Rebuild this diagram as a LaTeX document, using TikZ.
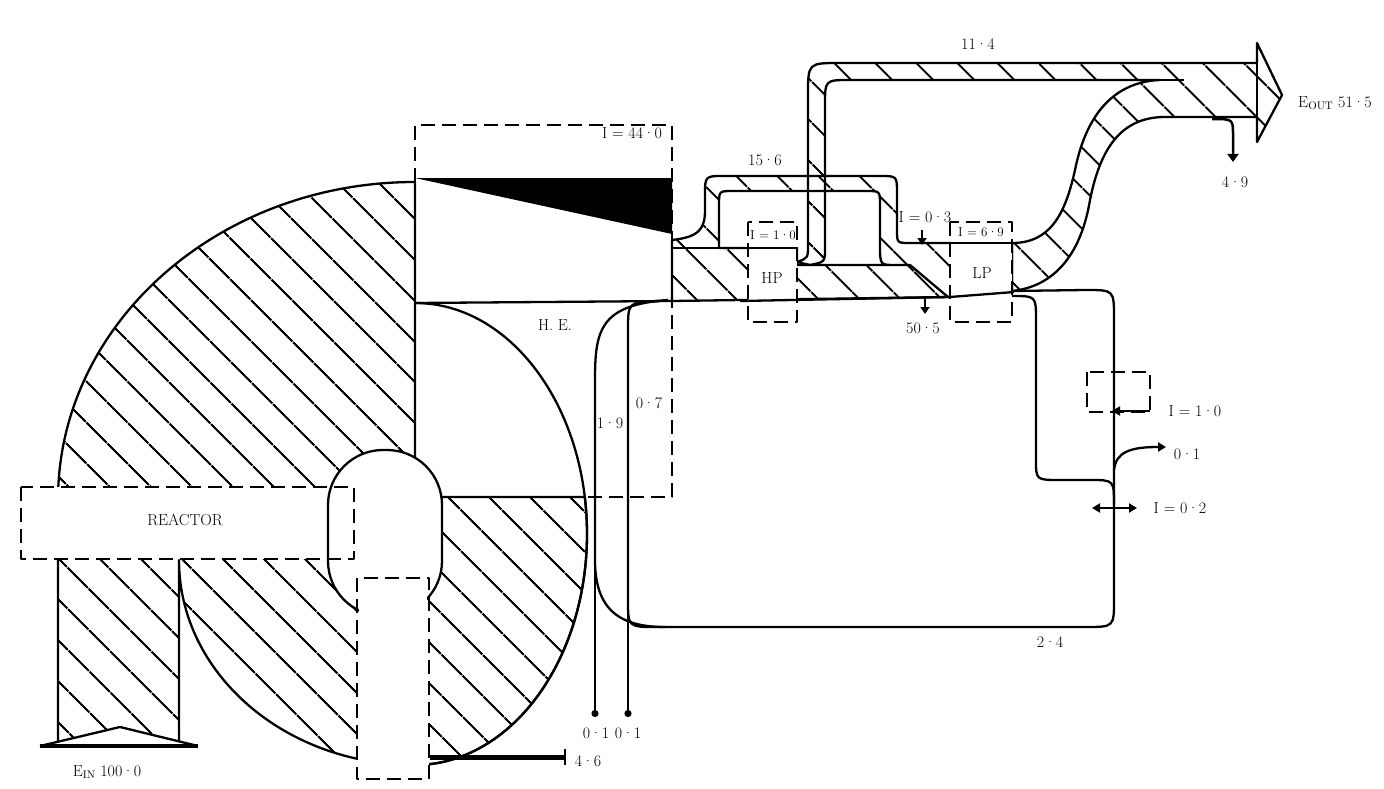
\documentclass[tikz,border=0pt]{standalone}
\usetikzlibrary{patterns.meta,arrows.meta}
\begin{document}
\begin{tikzpicture}[x=1pt,y=-1pt,line join=round,
  ol/.style={line width=2.3pt},
  hatch/.style={pattern={Lines[angle=-45,distance=30pt,line width=2.2pt]}},
  dsh/.style={line width=2.5pt,dash pattern=on 14pt off 7pt},
  lbl/.style={font=\fontsize{16}{18}\selectfont,inner sep=1pt},
  slbl/.style={font=\fontsize{13}{15}\selectfont,inner sep=1pt}]
\useasboundingbox (0,0) rectangle (1384,789);
% H.E. dashed box
\draw[dsh] (415,497) -- (415,125) -- (672,125) -- (672,497) -- cycle;
% big hatched region
\path[hatch,ol,draw] (415,182) arc[start angle=270,end angle=180,x radius=357,y radius=318]
  -- (58,745) -- (179,745) -- (179,560)
  arc[start angle=180,end angle=90,x radius=236,y radius=205]
  arc[start angle=90,end angle=-9.2,x radius=172,y radius=231]
  -- (415,497) -- cycle;
\draw[ol] (415,303) arc[start angle=-90,end angle=90,x radius=172,y radius=231];
\fill[white] (40,746) -- (120,727) -- (198,746) -- cycle;
\draw[ol] (40,746) -- (120,727) -- (198,746);
\draw[line width=4pt] (40,746) -- (198,746);
% reactor, pill, lower box
\fill[white] (21,487) rectangle (354,559);
\fill[white] (357,578) rectangle (429,779);
\draw[ol,fill=white,rounded corners=55pt] (328,450) rectangle (442,616);
\fill[white] (359,580) rectangle (427,777);
\draw[dsh] (21,487) rectangle (354,559);
\draw[dsh] (357,578) rectangle (429,779);
\node[lbl] (reactor) at (185,520) {REACTOR};
% wedge
\fill (415,178) -- (672,178) -- (672,234) -- cycle;
\draw[ol] (415,303) -- (672,301);
% turbine hatched band
\path[hatch,ol,draw] (672,301) -- (672,240) .. controls (700,237) and (705,228) .. (705,210) -- (705,195)
  .. controls (705,176) .. (724,176) -- (880,176) .. controls (897,176) .. (897,193) -- (897,230)
  .. controls (897,243) .. (910,243) -- (1012,243) -- (1012,293) -- (950,297) -- cycle;
\draw[ol,fill=white] (797,248) -- (719,248) -- (719,205) .. controls (719,191) .. (733,191) -- (866,191)
  .. controls (880,191) .. (880,205) -- (880,245) .. controls (880,265) .. (895,265) -- (797,265) -- cycle;
\draw[ol] (895,265) -- (910,265) -- (948,297);
\draw[ol] (672,248) -- (719,248);
% 11.4 band, S band, output arrow
\path[hatch,ol,draw] (797,262) .. controls (808,258) .. (808,245) -- (808,95) .. controls (808,63) .. (840,63)
  -- (1257,63) -- (1257,43) -- (1282,95) -- (1257,142) -- (1257,117) -- (1165,117)
  .. controls (1120,117) and (1100,150) .. (1090,200) .. controls (1080,260) and (1050,287) .. (1012,291)
  -- (1012,243) .. controls (1050,243) and (1065,215) .. (1075,170) .. controls (1085,120) and (1110,82) .. (1160,80)
  -- (850,80) .. controls (825,80) .. (825,105) -- (825,248) .. controls (825,262) .. (810,265) -- cycle;
\draw[ol] (1150,80) -- (1184,80);
\draw[ol] (1257,63) -- (1257,117);
\draw[line width=2.5pt,-{Triangle[length=8pt,width=11pt]}] (1212,119) .. controls (1233,119) .. (1233,135) -- (1233,162);
% HP and LP boxes
\fill[white] (748,222) rectangle (797,322);
\fill[white] (950,222) rectangle (1012,322);
\draw[ol] (748,248) -- (797,248);
\draw[ol] (950,243) -- (1012,243);
\draw[ol] (740,301) -- (950,297) -- (1014,292);
\draw[dsh] (748,222) rectangle (797,322);
\draw[dsh] (950,222) rectangle (1012,322);
\node[lbl] (hp) at (772,278) {HP};
\node[lbl] (lp) at (982,273) {LP};
\node[slbl] (ihp) at (773,235) {I = 1·0};
\node[slbl] (ilp) at (981,232) {I = 6·9};
% loop below
\draw[ol] (1012,291) -- (1086,290) .. controls (1114,290) .. (1114,318) -- (1114,600)
  .. controls (1114,627) .. (1085,627) -- (657,627) .. controls (628,627) .. (628,600) -- (628,330)
  .. controls (628,302) .. (660,301);
\draw[ol] (1012,296) .. controls (1036,296) .. (1036,320) -- (1036,460) .. controls (1036,480) .. (1060,480)
  -- (1090,480) .. controls (1114,480) .. (1114,505);
\draw[ol] (668,300) .. controls (600,305) and (595,330) .. (595,380) -- (595,560)
  .. controls (595,610) and (620,627) .. (665,627);
\draw[ol,-{Circle[length=7pt]}] (595,540) -- (595,717);
\draw[ol,-{Circle[length=7pt]}] (628,560) -- (628,717);
\draw[ol,-{Triangle[length=8pt,width=9pt]}] (1114,470) .. controls (1116,452) and (1130,447) .. (1166,447);
\draw[dsh] (1087,372) rectangle (1150,412);
\draw[ol,-{Triangle[length=8pt,width=9pt]}] (1150,411) -- (1112,411);
\draw[ol,{Triangle[length=8pt,width=9pt]}-{Triangle[length=8pt,width=9pt]}] (1092,508) -- (1137,508);
\draw[ol,-{Triangle[length=7pt,width=9pt]}] (922,230) -- (922,245);
\draw[ol,-{Triangle[length=7pt,width=9pt]}] (925,298) -- (925,314);
% 4.6 outflow
\draw[line width=5pt] (430,757) -- (565,757);
\draw[ol] (565,749) -- (565,765);
% labels
\node[lbl] (i44) at (632,133) {I = 44·0};
\node[lbl] (f156) at (765,160) {15·6};
\node[lbl] (f114) at (978,44) {11·4};
\node[lbl] (i03) at (925,217) {I = 0·3};
\node[lbl] (f505) at (923,328) {50·5};
\node[lbl] (he) at (555,325) {H. E.};
\node[lbl] (f19) at (610,423) {1·9};
\node[lbl] (f07) at (649,403) {0·7};
\node[lbl] (fa) at (596,733) {0·1};
\node[lbl] (fb) at (628,733) {0·1};
\node[lbl] (f46) at (588,761) {4·6};
\node[lbl] (ein) at (107,772) {E$_{\mathrm{IN}}$ 100·0};
\node[lbl] (f24) at (1050,642) {2·4};
\node[lbl] (i10) at (1195,411) {I = 1·0};
\node[lbl] (fc) at (1187,454) {0·1};
\node[lbl] (i02) at (1180,508) {I = 0·2};
\node[lbl] (f49) at (1235,182) {4·9};
\node[lbl] (eout) at (1335,103) {E$_{\mathrm{OUT}}$ 51·5};
\end{tikzpicture}
\end{document}
